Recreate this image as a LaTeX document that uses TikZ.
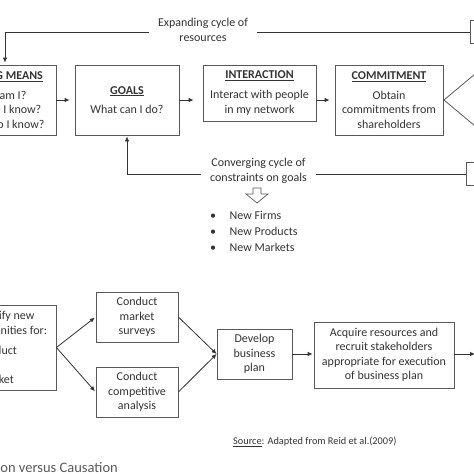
\documentclass[tikz,border=0pt]{standalone}
\usepackage{fontspec}
\setmainfont{Carlito}
\usetikzlibrary{arrows.meta,shapes.geometric,positioning}
\definecolor{ink}{HTML}{333333}
\definecolor{rule}{HTML}{595959}
\definecolor{capgray}{HTML}{595959}

\tikzset{
  stage/.style = {draw=rule, line width=0.8pt, align=center, inner sep=0pt, text=ink},
  flow/.style = {draw=ink, line width=0.8pt, -{Latex[length=5pt,width=4.5pt]}},
  loop/.style = {draw=ink, line width=0.8pt},
  note/.style = {align=center, text=ink, inner sep=0pt},
}
\newcommand{\bul}{\makebox[19.5pt][l]{\textbullet}}

\begin{document}
\begin{tikzpicture}[x=1pt, y=-1pt, font=\fontsize{12}{14.5}\selectfont]
  \useasboundingbox (0,0) rectangle (474,474);

  % effectuation
  \node[stage, minimum width=112pt, minimum height=70pt] (means) at (0,100)
    {\underline{\textbf{EXISTING MEANS}}\\[5.5pt]Who am I?\\What do I know?\\Whom do I know?};
  \node[stage, minimum width=104pt, minimum height=70pt] (goals) at (127,100)
    {\underline{\textbf{GOALS}}\\[5pt]What can I do?};
  \node[stage, minimum width=113pt, minimum height=56pt] (inter) at (259.5,93)
    {\underline{\textbf{INTERACTION}}\\[5.5pt]Interact with people\\in my network};
  \node[stage, minimum width=108pt, minimum height=70pt] (commit) at (389,100)
    {\underline{\textbf{COMMITMENT}}\\[5.5pt]Obtain\\commitments from\\shareholders};
  \node[stage, diamond, minimum width=124pt, minimum height=104pt, anchor=west] (choice) at (commit.east) {};
  \node[stage, minimum width=60pt, minimum height=23pt, anchor=west] (resbox) at (469.5,32) {};
  \node[stage, minimum width=60pt, minimum height=23pt, anchor=west] (conbox) at (466,174) {};

  \node[note, inner xsep=8.5pt] (expand) at (203,30) {Expanding cycle of\\resources};
  \node[note, inner xsep=9pt] (converge) at (258.5,171) {Converging cycle of\\constraints on goals};

  \draw[flow, shorten >=5pt] (means) -- (goals);
  \draw[flow, shorten >=9pt] (goals.east) -- (goals.east -| inter.west);
  \draw[flow, shorten >=5pt] (commit.west -| inter.east) -- (commit.west);

  \draw[loop] (resbox.west) -- (expand.east |- resbox.west);
  \draw[flow, shorten >=2pt] (expand.west |- resbox.west) -| ([xshift=5pt]means.north);
  \draw[loop] (conbox.west) -- (converge.east |- conbox.west);
  \draw[flow, shorten >=1pt] (converge.west |- conbox.west) -| (goals.south);

  % hollow arrow to the outcomes
  \coordinate (down) at (257,188);
  \draw[rule, line width=0.7pt, fill=white] (down) ++(-4,0) -- ++(8,0) -- ++(0,6) -- ++(7,0)
    -- ++(-11,9) -- ++(-11,-9) -- ++(7,0) -- cycle;
  \node[note, anchor=west, align=left] (outputs) at (210,231.5)
    {\bul New Firms\\[1.5pt]\bul New Products\\[1.5pt]\bul New Markets};

  % causation
  \node[stage, minimum width=112pt, minimum height=85pt] (ident) at (0,347.5) {};
  \node[note] (identhead) at (4,324) {Identify new\\opportunities for:};
  \node[note, anchor=west, align=left] (identlist) at (-41,364.5)
    {\bul Product\\\bul Firm\\\bul Market};
  \node[stage, minimum width=82pt, minimum height=50pt] (survey) at (137,317) {Conduct\\market\\surveys};
  \node[stage, minimum width=82pt, minimum height=50pt] (compet) at (137,392) {Conduct\\competitive\\analysis};
  \node[stage, minimum width=75pt, minimum height=50pt] (plan) at (254.5,354) {Develop\\business\\plan};
  \node[stage, minimum width=140pt, minimum height=66pt] (acquire) at (384,355)
    {Acquire resources and\\recruit stakeholders\\appropriate for execution\\of business plan};
  \coordinate (exit) at (475,354);

  \draw[flow, shorten >=1pt] (ident.east) -- (survey.west);
  \draw[flow, shorten >=1pt] (ident.east) -- (compet.west);
  \draw[flow] (survey.east) -- (plan.west);
  \draw[flow] (compet.east) -- (plan.west);
  \draw[flow, shorten >=1pt] (plan.east) -- (plan.east -| acquire.west);
  \draw[flow] (acquire.east |- exit) -- (exit);

  \node[note, anchor=west, font=\fontsize{10.3}{12}\selectfont] (source) at (233,442)
    {\underline{Source}: Adapted from Reid et al.(2009)};
  \node[note, anchor=base east, text=capgray, font=\fontsize{14.5}{17}\selectfont] (caption) at (118,472)
    {Effectuation versus Causation};
\end{tikzpicture}
\end{document}
